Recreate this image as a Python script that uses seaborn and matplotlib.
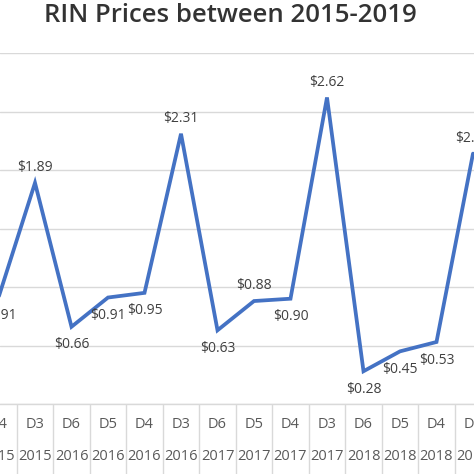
import matplotlib
matplotlib.use("Agg")
import matplotlib.pyplot as plt
import seaborn as sns
import pandas as pd
from matplotlib.transforms import blended_transform_factory

categories = ["D4", "D3", "D6", "D5", "D4", "D3", "D6", "D5", "D4", "D3", "D6", "D5", "D4", "D3"]
years = ["2015", "2015", "2016", "2016", "2016", "2016", "2017", "2017", "2017", "2017",
         "2018", "2018", "2018", "2018"]
prices = [0.91, 1.89, 0.66, 0.91, 0.95, 2.31, 0.63, 0.88, 0.90, 2.62, 0.28, 0.45, 0.53, 2.14]
label_side = ["below", "above", "below", "below", "below", "above", "below", "above",
              "below", "above", "below", "below", "below", "above"]
title = "RIN Prices between 2015-2019"

sns.set_theme(style="white")
plt.rcParams["font.family"] = ["Open Sans", "DejaVu Sans"]

df = pd.DataFrame({"pos": range(len(prices)), "price": prices})

fig = plt.figure(figsize=(4.74, 4.74), dpi=100)
ax = fig.add_axes([0, 70 / 474, 1, 351 / 474])

sns.lineplot(data=df, x="pos", y="price", ax=ax, color="#4472C4", linewidth=2.7,
             solid_joinstyle="miter", sort=False)

ax.set_xlim(1 - 35 / 36.5, 1 + 439 / 36.5)
ax.set_ylim(0, 3.0)
ax.set_yticks([0, 0.5, 1.0, 1.5, 2.0, 2.5, 3.0])
ax.yaxis.grid(True, color="#d9d9d9", linewidth=1.0)
ax.set_axisbelow(True)
for s in ["left", "right", "top"]:
    ax.spines[s].set_visible(False)
ax.spines["bottom"].set_color("#d9d9d9")
ax.spines["bottom"].set_linewidth(1.0)
ax.set_xlabel("")
ax.set_ylabel("")
ax.set_yticklabels([])
ax.tick_params(axis="y", length=0)

# category table lines
ax.set_xticks([])
ax.set_xticks([i + 0.5 for i in range(len(prices) - 1)], minor=True)
ax.tick_params(axis="x", which="minor", direction="out", length=52, width=1.0,
               color="#d9d9d9", bottom=True)

trans = blended_transform_factory(ax.transData, ax.transAxes)
for i, (c, yv) in enumerate(zip(categories, years)):
    ax.text(i, -21 / 351, c, transform=trans, ha="center", va="center",
            fontsize=10.5, color="#595959", clip_on=False)
    ax.text(i, -53 / 351, yv, transform=trans, ha="center", va="center",
            fontsize=10.5, color="#595959", clip_on=False)

for i, (p, side) in enumerate(zip(prices, label_side)):
    dy = 11 if side == "above" else -13
    ax.annotate(f"${p:.2f}", xy=(i, p), xytext=(0, dy), textcoords="offset points",
                ha="center", va="center", fontsize=10, color="#404040",
                annotation_clip=False)

fig.text(0.485, 1 - 15 / 474, title, ha="center", va="center", fontsize=18.5,
         color="#333333", weight="semibold")

fig.savefig("out.png", dpi=100)
